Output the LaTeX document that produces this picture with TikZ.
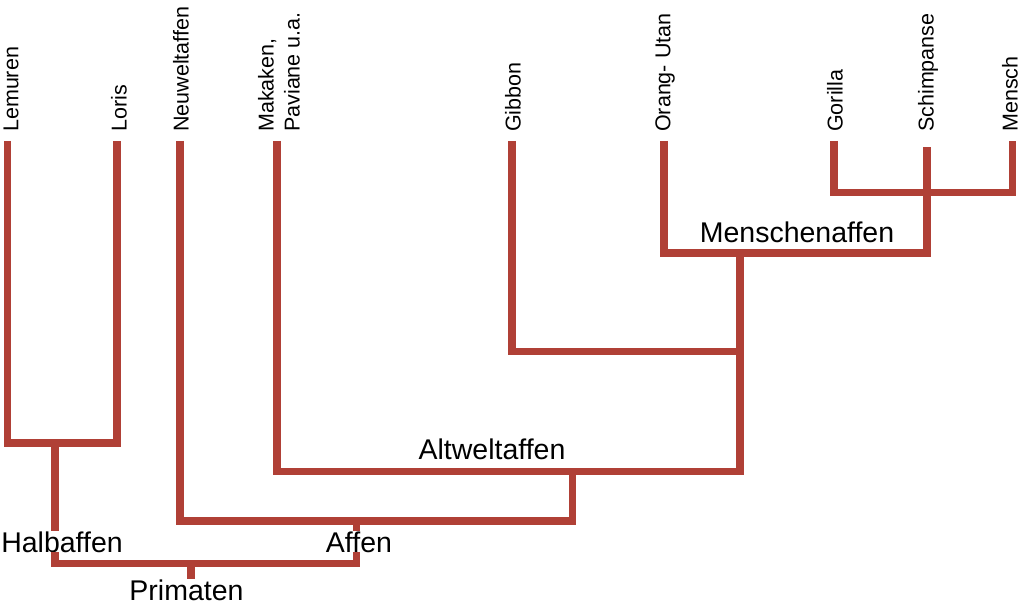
\documentclass[tikz,border=0pt]{standalone}
\usepackage{fontspec}
\setmainfont{Liberation Sans}
\usepackage{tikz}

\definecolor{treered}{RGB}{176,64,54}

\begin{document}
\begin{tikzpicture}[x = 1pt, y = -1pt,
    branch/.style = {draw = treered, line width = 7.5pt},
    leaf/.style = {rotate = 90, anchor = west, inner sep = 0pt,
        font = \fontsize{21.5}{26}\selectfont},
    group/.style = {anchor = base, inner sep = 0pt,
        font = \fontsize{28.5}{32}\selectfont}]
            \useasboundingbox (0,0) rectangle (1020,601);

            \node[leaf] (lemuren) at (11,132) {Lemuren};
            \node[leaf] (loris) at (119,132) {Loris};
            \node[leaf] (neuwelt) at (181,132) {Neuweltaffen};
            \node[leaf, align = left] (makaken) at (279,132) {Makaken,\\Paviane u.a.};
            \node[leaf] (gibbon) at (513,132) {Gibbon};
            \node[leaf] (orang) at (665,132) {Orang- Utan};
            \node[leaf] (gorilla) at (835,132) {Gorilla};
            \node[leaf] (schimpanse) at (928,132) {Schimpanse};
            \node[leaf] (mensch) at (1010,132) {Mensch};

            \node[group] (halbaffen) at (62,552) {Halbaffen};
            \node[group] (affen) at (359,552) {Affen};
            \node[group] (primaten) at (186.5,600) {Primaten};
            \node[group] (altweltaffen) at (492,459) {Altweltaffen};
            \node[group] (menschenaffen) at (797,243) {Menschenaffen};

            \coordinate (halb) at (55,443);
            \coordinate (prim) at (191,563.5);
            \coordinate (aff) at (356.5,521);
            \coordinate (alt) at (572.5,471.5);
            \coordinate (hom) at (740,351.5);
            \coordinate (great) at (740,253);
            \coordinate (homo) at (927,192.5);

            \draw[branch] ([xshift=-3.5pt, yshift=-9pt]lemuren.west) |- (halb) -| ([xshift=-2pt, yshift=-9pt]loris.west);
            \draw[branch] (halb) -- (halb |- halbaffen.north);
            \draw[branch] (halb |- halbaffen.south) |- (prim) -| (aff |- affen.south);
            \draw[branch] (prim) -- (prim |- primaten.north);

            \draw[branch] ([xshift=-1pt, yshift=-9pt]neuwelt.west) |- (aff) -| (alt);
            \draw[branch] (aff) -- (aff |- affen.north);
            \draw[branch] ([xshift=-2pt, yshift=-9pt]makaken.west) |- (alt) -| (hom) -- (great);
            \draw[branch] ([xshift=-1pt, yshift=-9pt]gibbon.west) |- (hom);

            \draw[branch] ([xshift=-1pt, yshift=-9pt]orang.west) |- (great) -| ([xshift=-1pt, yshift=-15pt]schimpanse.west);
            \draw[branch] ([xshift=-1pt, yshift=-9pt]gorilla.west) |- (homo) -| ([xshift=2.5pt, yshift=-9pt]mensch.west);
        \end{tikzpicture}
\end{document}
